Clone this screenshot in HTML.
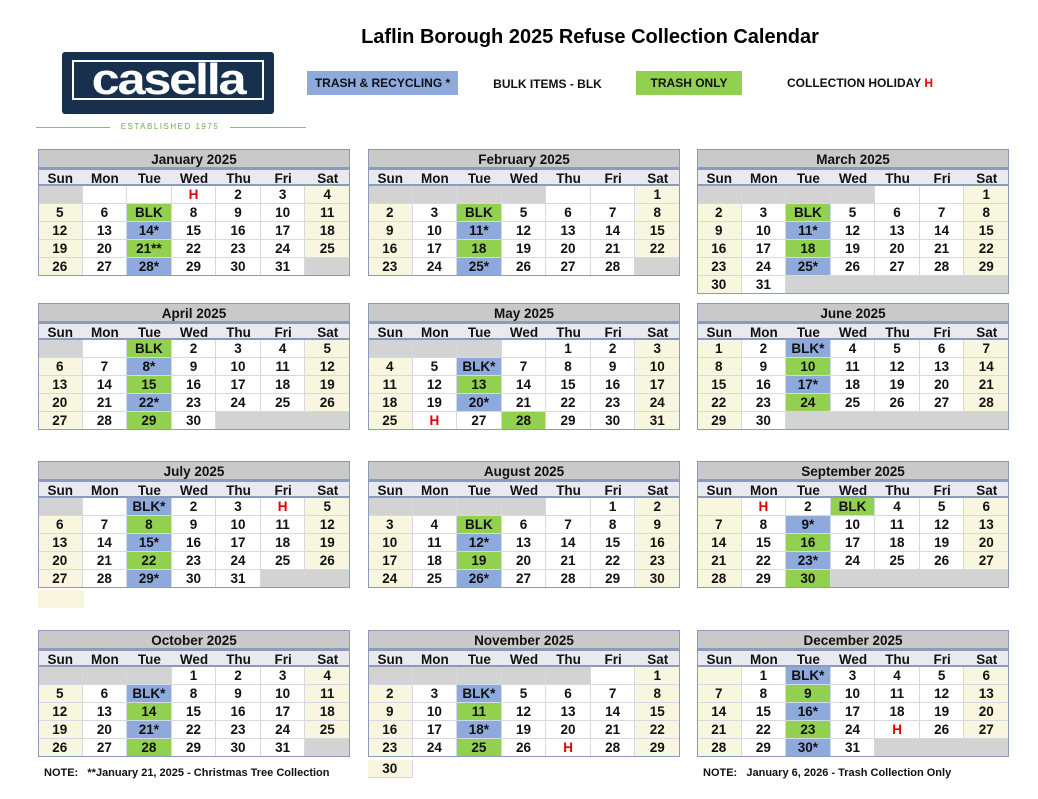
<!DOCTYPE html>
<html><head><meta charset="utf-8">
<style>
body{margin:0;width:1038px;height:799px;background:#fff;position:relative;overflow:hidden;font-family:"Liberation Sans",Arial,sans-serif;}
.a{position:absolute;box-sizing:border-box;text-align:center;font-weight:bold;color:#111;}
.c{font-size:13.5px;line-height:18px;border-right:1px solid #d4d9e6;border-bottom:1px solid #d4d9e6;}
</style></head><body>
<div class="a" style="left:300px;top:24px;width:580px;font-size:20px;line-height:26px;color:#000">Laflin Borough 2025 Refuse Collection Calendar</div>
<div style="position:absolute;left:62px;top:52px;width:212px;height:62px;background:#17304d;border-radius:3px">
  <div style="position:absolute;left:10px;top:8px;width:192px;height:40px;border:2px solid #fff;box-sizing:border-box"></div>
  <div class="a" style="left:0;top:4px;width:212px;font-size:44px;line-height:48px;color:#fff;font-family:'Liberation Sans',sans-serif;letter-spacing:-2px;transform:scaleX(1.15)">casella</div>
</div>
<div style="position:absolute;left:36px;top:127px;width:270px;height:1px;background:#8cc063"></div>
<div class="a" style="left:110px;top:121px;width:120px;background:#fff;font-weight:normal;font-size:8px;line-height:12px;letter-spacing:1.5px;color:#6fae48">ESTABLISHED 1975</div>
<div class="a" style="left:307px;top:71px;width:151px;height:24px;background:#8ea9db;font-size:12px;line-height:24px">TRASH &amp; RECYCLING *</div>
<div class="a" style="left:480px;top:71px;width:135px;font-size:12px;line-height:26px">BULK ITEMS - BLK</div>
<div class="a" style="left:636px;top:71px;width:106px;height:24px;background:#92d050;font-size:12px;line-height:24px">TRASH ONLY</div>
<div class="a" style="left:770px;top:70px;width:180px;font-size:12px;line-height:26px">COLLECTION HOLIDAY <span style="color:#e00">H</span></div>
<div class="a" style="left:44px;top:766px;width:320px;text-align:left;font-size:11px;line-height:14px">NOTE:&nbsp;&nbsp; **January 21, 2025 - Christmas Tree Collection</div>
<div class="a" style="left:703px;top:766px;width:320px;text-align:left;font-size:11px;line-height:14px">NOTE:&nbsp;&nbsp; January 6, 2026 - Trash Collection Only</div>
<div class="a" style="left:38px;top:590px;width:46px;height:18px;background:#f8f6de"></div>
<div id="cal"></div>
<script>
const monthNames=["January","February","March","April","May","June","July","August","September","October","November","December"];
const startDays=[3,6,6,2,4,0,2,5,1,3,6,1];
const monthLengths=[31,28,31,30,31,30,31,30,30,31,30,31];
const leadStyles=["gww","ggggww","ggggww","gw","gggw","","gw","ggggw","c","ggg","gggggw","c"];
const specials=[
 {1:["H","h"],7:["BLK","g"],14:["14*","b"],21:["21**","g"],28:["28*","b"]},
 {4:["BLK","g"],11:["11*","b"],18:["18","g"],25:["25*","b"]},
 {4:["BLK","g"],11:["11*","b"],18:["18","g"],25:["25*","b"]},
 {1:["BLK","g"],8:["8*","b"],15:["15","g"],22:["22*","b"],29:["29","g"]},
 {6:["BLK*","b"],13:["13","g"],20:["20*","b"],26:["H","h"],28:["28","g"]},
 {3:["BLK*","b"],10:["10","g"],17:["17*","b"],24:["24","g"]},
 {1:["BLK*","b"],4:["H","h"],8:["8","g"],15:["15*","b"],22:["22","g"],29:["29*","b"]},
 {5:["BLK","g"],12:["12*","b"],19:["19","g"],26:["26*","b"]},
 {1:["H","h"],3:["BLK","g"],9:["9*","b"],16:["16","g"],23:["23*","b"],30:["30","g"]},
 {7:["BLK*","b"],14:["14","g"],21:["21*","b"],28:["28","g"]},
 {4:["BLK*","b"],11:["11","g"],18:["18*","b"],25:["25","g"],27:["H","h"]},
 {2:["BLK*","b"],9:["9","g"],16:["16*","b"],23:["23","g"],25:["H","h"],30:["30*","b"]}
];
const dayHeaders=["Sun","Mon","Tue","Wed","Thu","Fri","Sat"];
const colX=[38,368,697], rowY=[149,303,461,630];
const W=312, CW=W/7, TH=19, HH=18, RH=18;
const cal=document.getElementById('cal');
function div(x,y,w,h,cls,bg,txt,color){
  const d=document.createElement('div');
  d.className='a '+cls;
  d.style.cssText=`left:${x}px;top:${y}px;width:${w}px;height:${h}px;background:${bg};`+(color?`color:${color};`:'');
  d.textContent=txt||'';
  cal.appendChild(d);return d;
}
for(let m=0;m<12;m++){
  const x0=colX[m%3], y0=rowY[Math.floor(m/3)];
  const t=div(x0,y0,W,TH,'','#c9c9c9',monthNames[m]+' 2025');
  
  
  t.style.fontSize='13.5px';t.style.lineHeight=TH+'px';t.style.border='1px solid #8c9abb';
  for(let i=0;i<7;i++){
    const h=div(x0+i*CW,y0+TH,CW,HH,'','#e8eaf0',dayHeaders[i]);
    
    
    h.style.fontSize='13.5px';h.style.lineHeight=HH+'px';h.style.borderBottom='2px solid #8c9abb';h.style.borderTop='2px solid #8c9abb';
  }
  const ry=y0+TH+HH, sd=startDays[m], n=monthLengths[m], ls=leadStyles[m];
  for(let i=0;i<sd;i++){
    const s=ls[i];const bg=s==='g'?'#d3d3d3':s==='c'?'#f8f6de':'#fff';
    const e=div(x0+i*CW,ry,CW,RH,'c',bg,'');
    
    
  }
  let lastRow=0,lastCol=0;
  for(let d=1;d<=n;d++){
    const idx=sd+d-1, r=Math.floor(idx/7), c=idx%7;
    let row=r;
    const sp=specials[m][d];
    let bg=(c===0||c===6)?'#f8f6de':'#fff', txt=String(d), col=null;
    if(sp){txt=sp[0];if(sp[1]==='g')bg='#92d050';else if(sp[1]==='b')bg='#8ea9db';else col='#e00000';}
    let yy=ry+row*RH; if(m===10&&row===5) yy+=3;
    const e=div(x0+c*CW,yy,CW,RH,'c',bg,txt,col);
    
    
    lastRow=row;lastCol=c;
  }
  if(lastCol<6 && m!==10){
    const f=div(x0+(lastCol+1)*CW,ry+lastRow*RH,(6-lastCol)*CW,RH,'c','#d3d3d3','');
    
    
  }
  const rows=(m===10)?5:lastRow+1;
  const b=div(x0,y0,W,TH+HH+rows*RH,'','transparent','');
  b.style.border='1.5px solid #8c9abb';b.style.pointerEvents='none';
  
  
}
</script>
</body></html>
